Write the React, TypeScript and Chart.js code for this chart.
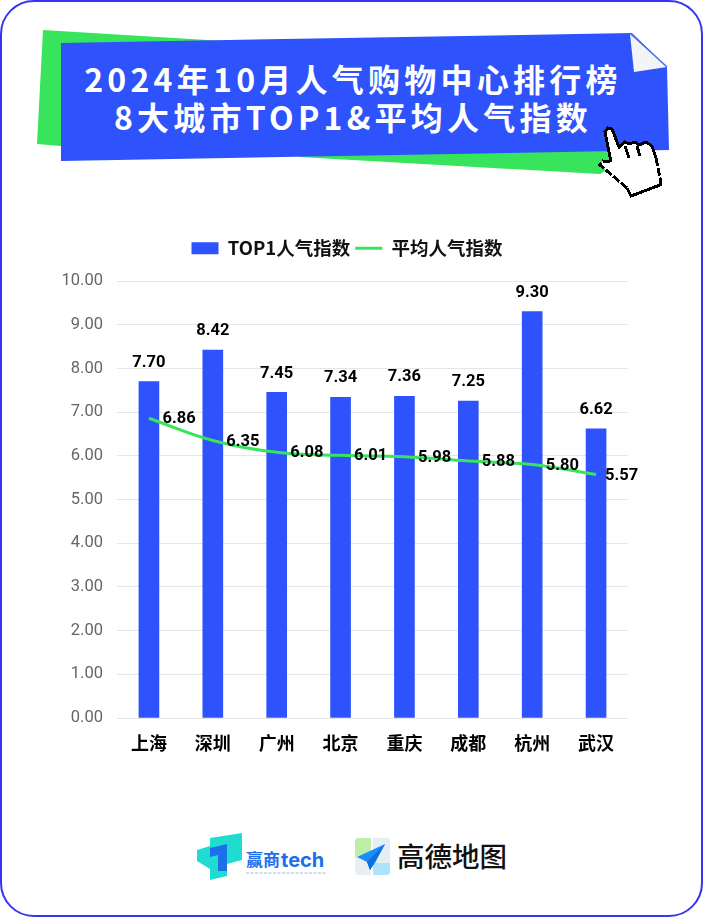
import { useEffect, useRef } from "react"
import { Chart, registerables } from "chart.js"

Chart.register(...registerables)

const cities = ["上海", "深圳", "广州", "北京", "重庆", "成都", "杭州", "武汉"]
const top1Values = [7.7, 8.42, 7.45, 7.34, 7.36, 7.25, 9.3, 6.62]
const avgValues = [6.86, 6.35, 6.08, 6.01, 5.98, 5.88, 5.8, 5.57]

const cjk = '"Noto Sans CJK SC", sans-serif'
const BLUE = "#2e52fb"
const GREEN = "#38e45c"

// value labels: above the bars, to the right of the line points
const valueLabels = {
  id: "valueLabels",
  afterDatasetsDraw(chart: Chart) {
    const { ctx, chartArea } = chart
    ctx.save()
    ctx.font = "bold 16.5px Roboto"
    ctx.fillStyle = "#000"
    ctx.textBaseline = "middle"
    chart.getDatasetMeta(0).data.forEach((bar, i) => {
      ctx.textAlign = "center"
      ctx.fillText(top1Values[i].toFixed(2), bar.x, bar.y - 19)
    })
    chart.getDatasetMeta(1).data.forEach((pt, i) => {
      ctx.textAlign = "left"
      // the last label is pulled in so it stays near the plot edge
      ctx.fillText(avgValues[i].toFixed(2), Math.min(pt.x + 13.5, chartArea.right - 23), pt.y + 1)
    })
    ctx.restore()
  },
}

// the legend sits over the full page width in the reference, not over the plot
const legendPlacement = {
  id: "legendPlacement",
  beforeInit(chart: any) {
    const fit = chart.legend.fit
    chart.legend.fit = function () {
      fit.call(this)
      this.height = 47
    }
  },
  afterLayout(chart: any) {
    chart.legend.left += 33
    chart.legend.right += 33
  },
}

function Banner() {
  return (
    <svg width={703} height={918} style={{ position: "absolute", left: 0, top: 0 }}>
      <rect x={1} y={1} width={701} height={915} rx={33} fill="#fff" stroke="#3636ee" strokeWidth={2} />
      <polygon points="43,30 240,42 300,157 600,174 640,150 61,146 37,144" fill={GREEN} />
      <polygon points="61,43 632,33 667,67 669,150 61,161" fill={BLUE} />
      <polygon points="630,34 667,67 634,72" fill="#f2f4f6" />
      <line x1={630} y1={33} x2={667} y2={67} stroke="#4d6ff5" strokeWidth={1.5} />
      <text x={353} y={92} textAnchor="middle" fill="#fff" fontFamily={cjk} fontWeight={700} fontSize={32} letterSpacing={4.25}>
        2024年10月人气购物中心排行榜
      </text>
      <text x={353} y={130} textAnchor="middle" fill="#fff" fontFamily={cjk} fontWeight={700} fontSize={32} letterSpacing={4.25}>
        8大城市TOP1&amp;平均人气指数
      </text>

      <path
        d="M605,132 L608,128 L612,129 L619,147 L625,142 L629,144 L635,142 L639,145 L646,142 L652,146 L659,168 L660,178 L660,185 L631,196 L627,188 L607,171 L600,165 L603,161 L611,162 Z"
        fill="#fff"
      />
      <g fill="none" stroke="#000" strokeWidth={3} shapeRendering="crispEdges">
        <path d="M611,162 L605,132 L608,128 L612,129 L619,147 L625,142 L629,144 L635,142 L639,145 L646,142 L652,146 L656,158" />
        <path d="M656,158 L660,178" strokeDasharray="8 2" />
        <path d="M660,178 L660,185 L631,196 L627,188" />
        <path d="M627,188 L607,171 L600,165 L603,161 L611,162" strokeDasharray="8 2" />
        <path d="M625,146 L629,158 M637,146 L640,156" />
      </g>

      <polygon points="197,850 210,846 210,869 197,861" fill="#1fdcd0" />
      <polygon points="210,838 242,833 242,860 227,864 227,876 210,880" fill="#1fdcd0" />
      <polygon points="210,848 227,844 227,871 218,871 218,855 210,857" fill="#1b6fe8" />
      <text x={246} y={866} fill="#1c6fe8" fontFamily={cjk} fontWeight={700} fontSize={17}>赢商</text>
      <text x={281} y={867} fill="#1c6fe8" fontFamily="Inter, sans-serif" fontWeight={700} fontSize={20}>tech</text>
      <line x1={246} y1={873} x2={326} y2={873} stroke="#9db8e8" strokeWidth={1} strokeDasharray="3 1.5" />

      <path d="M358,838 H371 V857 H355 V841 Q355,838 358,838 Z" fill="#bdeea8" />
      <path d="M373,838 H387 Q390,838 390,841 V863 H373 Z" fill="#e6eef3" />
      <path d="M355,857 H371 V875 H358 Q355,875 355,872 Z" fill="#e8eef2" />
      <path d="M373,863 H390 V872 Q390,875 387,875 H373 Z" fill="#aee4fb" />
      <polygon points="385,844 357,857 367,862 370,870 375,863" fill="#1a8cff" />
      <polygon points="385,844 367,862 370,870" fill="#0f6fd8" />
      <text x={397} y={867} fill="#111" fontFamily={cjk} fontWeight={500} fontSize={27.5}>高德地图</text>
    </svg>
  )
}

export default function App() {
  const chartRef = useRef<HTMLCanvasElement>(null)

  useEffect(() => {
    document.body.style.margin = "0"
    if (!chartRef.current) return

    const chart = new Chart(chartRef.current, {
      type: "bar",
      data: {
        labels: cities,
        datasets: [
          {
            type: "bar",
            label: "TOP1人气指数",
            data: top1Values,
            backgroundColor: BLUE,
            barThickness: 20,
            pointStyle: "rect",
            order: 2,
          },
          {
            type: "line",
            label: "平均人气指数",
            data: avgValues,
            borderColor: GREEN,
            backgroundColor: GREEN,
            borderWidth: 3,
            tension: 0.4,
            pointRadius: 0,
            pointStyle: "line",
            order: 1,
          },
        ],
      } as any,
      options: {
        responsive: false,
        animation: false,
        devicePixelRatio: 1,
        layout: { padding: { top: 234, left: 0, right: 75, bottom: 0 } },
        scales: {
          x: {
            grid: { display: false },
            border: { display: false },
            ticks: {
              padding: 6,
              color: "#000",
              font: { family: cjk, size: 18, weight: "bold" },
            },
            afterFit: (s: any) => {
              s.height = 200
            },
          },
          y: {
            min: 0,
            max: 10,
            grid: { color: "#e6e6e6", drawTicks: false },
            border: { display: false },
            ticks: {
              stepSize: 1,
              padding: 14,
              color: "#666",
              font: { family: "Roboto", size: 16.5 },
              callback: (v: any) => Number(v).toFixed(2),
            },
            afterFit: (s: any) => {
              s.width = 117
            },
          },
        },
        plugins: {
          title: { display: false },
          tooltip: { enabled: false },
          legend: {
            position: "top",
            labels: {
              usePointStyle: true,
              pointStyleWidth: 27,
              boxHeight: 12,
              padding: 5,
              color: "#111",
              font: { family: cjk, size: 18.5, weight: "bold" },
              sort: (a: any, b: any) => a.datasetIndex - b.datasetIndex,
            },
          },
        },
      } as any,
      plugins: [valueLabels, legendPlacement],
    })

    return () => chart.destroy()
  }, [])

  return (
    <div style={{ position: "relative", width: 703, height: 918, overflow: "hidden" }}>
      <Banner />
      <canvas ref={chartRef} width={703} height={918} style={{ position: "absolute", left: 0, top: 0 }} />
    </div>
  )
}
